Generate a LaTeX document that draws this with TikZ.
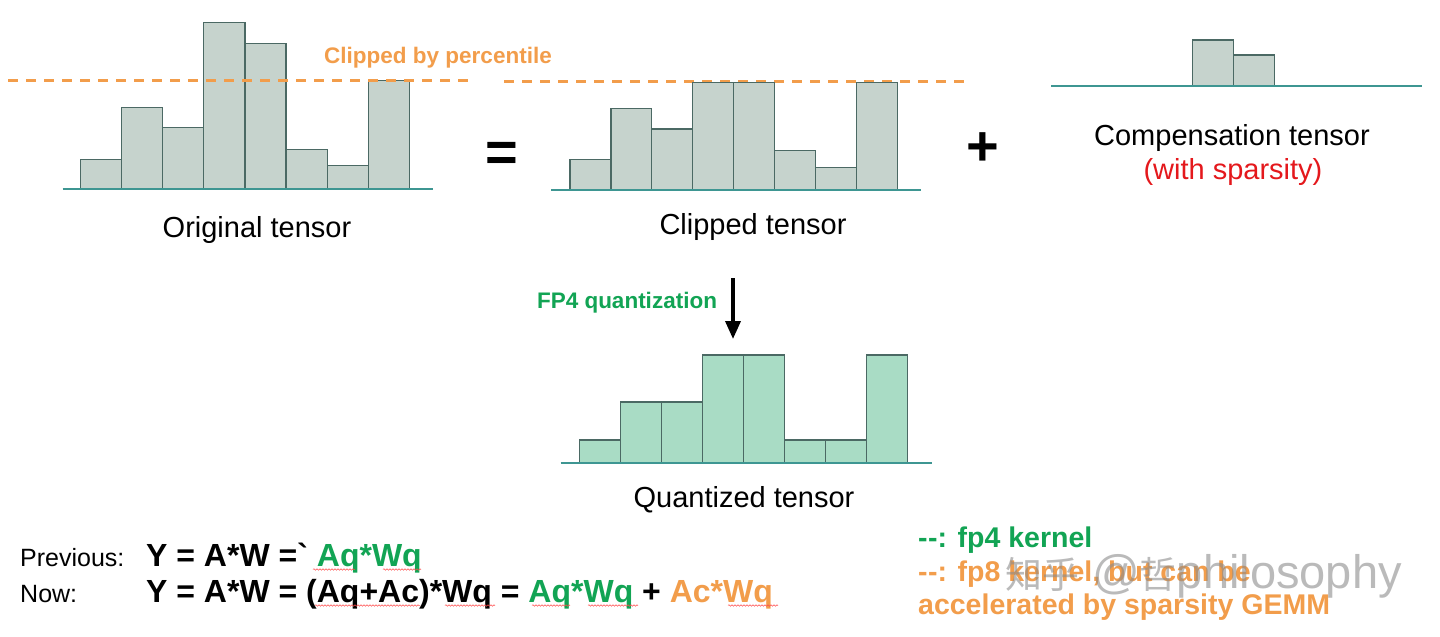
\documentclass[tikz,border=0pt]{standalone}
\usepackage{fontspec}
\setmainfont{Liberation Sans}
\newfontfamily\cjkfont{Noto Sans CJK SC}
\usetikzlibrary{arrows.meta,decorations.pathmorphing}
\definecolor{barfill}{RGB}{198,211,205}
\definecolor{qfill}{RGB}{169,220,197}
\definecolor{barline}{RGB}{75,105,100}
\definecolor{axisc}{RGB}{62,150,146}
\definecolor{orangec}{RGB}{242,157,75}
\definecolor{greenc}{RGB}{18,164,84}
\definecolor{redc}{RGB}{228,24,28}
\newcommand\fsz[1]{\fontsize{#1}{#1}\selectfont}
\newcommand\dd{{-}\kern0.5pt{-}}
\tikzset{
  bar/.style={draw=barline, fill=barfill, line width=1.2pt},
  qbar/.style={draw=barline, fill=qfill, line width=1.2pt},
  axisline/.style={draw=axisc, line width=1.8pt},
  clipline/.style={draw=orangec, line width=2.6pt, dash pattern=on 10pt off 8pt},
  lbl/.style={inner sep=0pt, font=\fsz{29}},
  bigsym/.style={inner sep=0pt, font=\fsz{56}\bfseries},
  smallbold/.style={inner sep=0pt, font=\fsz{22.5}\bfseries},
  formula/.style={inner sep=0pt, anchor=base west, font=\fsz{32}\bfseries},
  rowlbl/.style={inner sep=0pt, anchor=base west, font=\fsz{25}},
  legend/.style={inner sep=0pt, anchor=base west, font=\fsz{28.5}\bfseries},
  arr/.style={line width=3.6pt, -{Triangle[length=18pt,width=15pt]}},
  squig/.style={draw=red!70, line width=0.5pt, decorate, decoration={snake, segment length=3pt, amplitude=0.8pt}}
}
\begin{document}
\begin{tikzpicture}[x=1pt,y=-1pt]
\useasboundingbox (0,0) rectangle (1440,637);
% ---- Original tensor
\foreach \t [count=\i from 0] in {159.3,107.3,127.3,22.3,43.3,149.3,165.3,80.3}
  \draw[bar] ({80.5+\i*41.1},189) rectangle ({80.5+(\i+1)*41.1},\t);
\draw[axisline] (62.7,189) -- (432.7,189);
% clip lines
\coordinate (clA1) at (8,80.5);
\coordinate (clA2) at (473,80.5);
\coordinate (clB1) at (504,81.7);
\coordinate (clB2) at (968,81.7);
\draw[clipline] (clA1) -- (clA2);
\draw[clipline] (clB1) -- (clB2);
\node[smallbold, text=orangec] (cliplbl) at (438,58) {Clipped by percentile};
\node[lbl] (orig) at (257,230) {Original tensor};
% ---- equals
\node[bigsym] (eq) at (502,157) {=};
% ---- Clipped tensor
\foreach \t [count=\i from 0] in {159.7,108.3,129,82.3,82.3,150.3,167.3,82.3}
  \draw[bar] ({570+\i*40.92},190.3) rectangle ({570+(\i+1)*40.92},\t);
\draw[axisline] (551,190.3) -- (921,190.3);
\node[lbl] (clipped) at (753,227) {Clipped tensor};
% ---- plus
\node[bigsym] (plus) at (983,149) {+};
% ---- Compensation
\foreach \t [count=\i from 0] in {40,55}
  \draw[bar] ({1192.3+\i*41.2},86.3) rectangle ({1192.3+(\i+1)*41.2},\t);
\draw[axisline] (1051,86.3) -- (1421.7,86.3);
\node[lbl] (comp) at (1232,138) {Compensation tensor};
\node[lbl, text=redc] (sparse) at (1233,172) {(with sparsity)};
% ---- arrow + FP4
\coordinate (arrS) at (733,278);
\coordinate (arrE) at (733,339);
\draw[arr] (arrS) -- (arrE);
\node[smallbold, text=greenc] (fp4) at (627,303) {FP4 quantization};
% ---- Quantized
\foreach \t [count=\i from 0] in {440,402,402,355,355,440,440,355}
  \draw[qbar] ({579.3+\i*41},463.3) rectangle ({579.3+(\i+1)*41},\t);
\draw[axisline] (560.7,463.3) -- (931.7,463.3);
\node[lbl] (quant) at (744,500) {Quantized tensor};
% ---- formulas
\node[rowlbl] (prev) at (20,566) {Previous:};
\node[rowlbl] (now) at (20,602) {Now:};
\node[formula] (f1) at (146,566) {Y = A*W =\textasciigrave\ \textcolor{greenc}{Aq*Wq}};
\node[formula] (f2) at (146,602) {Y = A*W = (Aq+Ac)*Wq = \textcolor{greenc}{Aq*Wq} + \textcolor{orangec}{Ac*Wq}};
\draw[squig] (313,569.5) -- (355,569.5);
\draw[squig] (383,569.5) -- (421,569.5);
\draw[squig] (315,605.5) -- (420,605.5);
\draw[squig] (445,605.5) -- (495,605.5);
\draw[squig] (532,605.5) -- (570,605.5);
\draw[squig] (588,605.5) -- (638,605.5);
\draw[squig] (728,605.5) -- (778,605.5);
% ---- legend
\node[legend, text=greenc] (lg1) at (918,547) {\dd: fp4 kernel};
\node[legend, text=orangec] (lg2) at (918,581) {\dd: fp8 kernel, but can be};
\node[legend, text=orangec] (lg3) at (918,614) {accelerated by sparsity GEMM};
% ---- watermark
\node[inner sep=0pt, anchor=base west, text={rgb,255:red,140;green,140;blue,140}, opacity=0.6, font=\fsz{47}] (wm) at (1005,588) {{\cjkfont\fsz{37}知乎} @{\cjkfont\fsz{37}哲}philosophy};
\end{tikzpicture}
\end{document}
